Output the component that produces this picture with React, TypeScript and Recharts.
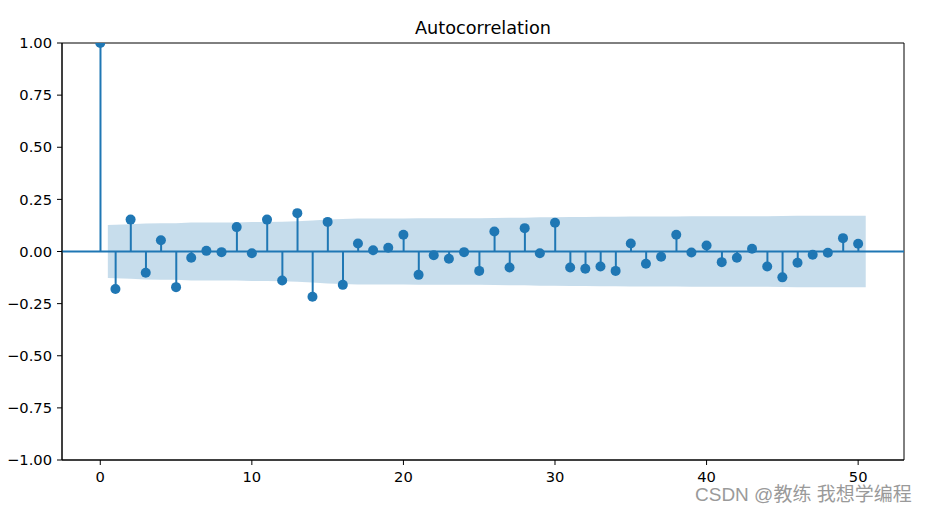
import React from "react";
import {
  ComposedChart,
  Area,
  Bar,
  Scatter,
  XAxis,
  YAxis,
  ReferenceLine,
  ReferenceArea,
} from "recharts";

// autocorrelation values, lag 0..50
const acfValues = [
  1, -0.18, 0.153, -0.102, 0.054, -0.171, -0.03, 0.003, -0.003, 0.117, -0.008,
  0.153, -0.139, 0.184, -0.217, 0.142, -0.16, 0.038, 0.006, 0.018, 0.08,
  -0.112, -0.018, -0.035, -0.003, -0.093, 0.096, -0.077, 0.112, -0.008, 0.138,
  -0.077, -0.083, -0.072, -0.093, 0.038, -0.059, -0.025, 0.08, -0.005, 0.029,
  -0.051, -0.03, 0.013, -0.072, -0.124, -0.054, -0.016, -0.006, 0.064, 0.037,
];

// half width of the confidence band, lag 1..50
const bandHalfWidth = [
  0.127, 0.131, 0.134, 0.135, 0.136, 0.139, 0.139, 0.139, 0.139, 0.141,
  0.141, 0.143, 0.145, 0.149, 0.154, 0.156, 0.158, 0.158, 0.158, 0.158,
  0.159, 0.16, 0.16, 0.16, 0.16, 0.161, 0.162, 0.162, 0.164, 0.164,
  0.165, 0.166, 0.167, 0.167, 0.168, 0.168, 0.168, 0.168, 0.169, 0.169,
  0.169, 0.169, 0.169, 0.169, 0.17, 0.171, 0.171, 0.171, 0.171, 0.172,
];

const xTicks = [0, 10, 20, 30, 40, 50];
const yTicks = [-1, -0.75, -0.5, -0.25, 0, 0.25, 0.5, 0.75, 1];
const xDomain: [number, number] = [-2.525, 53.025];

const BLUE = "#1f77b4";
const FONT = "'DejaVu Sans', sans-serif";

type Row = { x: number; acf?: number; band?: [number, number] };

const acfRows: Row[] = acfValues.map((v, i) => ({ x: i, acf: v }));

// band starts half a lag early and ends half a lag late, like statsmodels does
const bandRows: Row[] = bandHalfWidth.map((h, i) => {
  const lag = i + 1;
  const x = lag === 1 ? 0.5 : lag === bandHalfWidth.length ? lag + 0.5 : lag;
  return { x, band: [-h, h] as [number, number] };
});

const rowsByX = new Map<number, Row>();
[...acfRows, ...bandRows].forEach((r) => {
  const prev = rowsByX.get(r.x) || { x: r.x };
  rowsByX.set(r.x, { ...prev, ...r });
});
const chartData = Array.from(rowsByX.values()).sort((a, b) => a.x - b.x);

const fmtY = (v: number) => (v < 0 ? "\u2212" + Math.abs(v).toFixed(2) : v.toFixed(2));

export default function App() {
  return (
    <div
      style={{
        position: "absolute",
        left: 0,
        top: 0,
        width: 927,
        height: 513,
        background: "#fff",
      }}
    >
      <div
        style={{
          position: "absolute",
          left: 0,
          width: 966,
          top: 20,
          textAlign: "center",
          fontFamily: FONT,
          fontSize: 17.7,
          lineHeight: 1,
          color: "#000",
        }}
      >
        Autocorrelation
      </div>
      <ComposedChart
        width={927}
        height={513}
        data={chartData}
        margin={{ top: 43, right: 23, bottom: 23, left: 0 }}
      >
        <XAxis
          dataKey="x"
          type="number"
          domain={xDomain}
          ticks={xTicks}
          allowDataOverflow
          height={30}
          tickSize={5}
          tickMargin={7}
          stroke="#000"
          tick={{ fill: "#000", fontSize: 14.7, fontFamily: FONT }}
        />
        <YAxis
          type="number"
          domain={[-1, 1]}
          ticks={yTicks}
          allowDataOverflow
          width={62}
          tickSize={5}
          tickMargin={5}
          stroke="#000"
          tickFormatter={fmtY}
          tick={{ fill: "#000", fontSize: 14.7, fontFamily: FONT }}
        />
        <Area
          dataKey="band"
          type="linear"
          stroke="none"
          fill={BLUE}
          fillOpacity={0.25}
          connectNulls
          isAnimationActive={false}
        />
        <Bar dataKey="acf" barSize={2} fill={BLUE} isAnimationActive={false} />
        <ReferenceLine y={0} stroke={BLUE} strokeWidth={2} />
        <Scatter
          data={acfRows}
          dataKey="acf"
          fill={BLUE}
          shape={(p: any) => <circle cx={p.cx} cy={p.cy} r={5} fill={BLUE} />}
          isAnimationActive={false}
        />
        <ReferenceArea
          x1={xDomain[0]}
          x2={xDomain[1]}
          y1={-1}
          y2={1}
          fill="none"
          stroke="#000"
          strokeWidth={1}
        />
      </ComposedChart>
      <div
        style={{
          position: "absolute",
          left: 695,
          top: 487,
          fontFamily: "'Liberation Sans', 'Noto Sans CJK SC', sans-serif",
          fontSize: 19,
          lineHeight: "15px",
          color: "#9a9a9a",
          whiteSpace: "nowrap",
        }}
      >
        CSDN @教练 我想学编程
      </div>
    </div>
  );
}
